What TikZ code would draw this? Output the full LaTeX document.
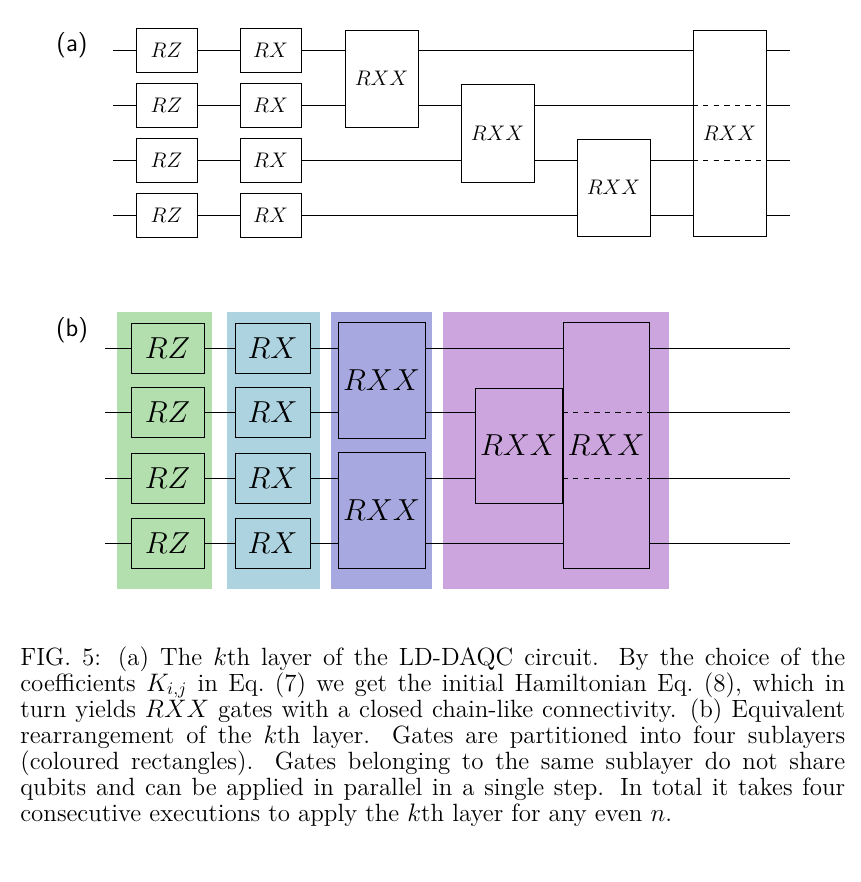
\documentclass[tikz,border=0pt]{standalone}
\usepackage{amsmath}
\definecolor{layerA}{RGB}{178,223,173}
\definecolor{layerB}{RGB}{173,211,224}
\definecolor{layerC}{RGB}{167,168,224}
\definecolor{layerD}{RGB}{204,164,222}
\begin{document}
\begin{tikzpicture}[x=0.02cm,y=-0.02cm,
  gate/.style={draw, fill=white, inner sep=0pt, font=\large},
  gateb/.style={draw, inner sep=0pt, font=\LARGE},
  wire/.style={line width=0.5pt},
  tag/.style={font=\sffamily\Large}]
\useasboundingbox (0,0) rectangle (860,882);

% (a)
\node[tag] (taga) at (72,45) {(a)};
\foreach \y [count=\i] in {50,105,160,215} {
  \coordinate (as\i) at (113,\y);
  \coordinate (ae\i) at (790,\y);
  \draw[wire] (as\i) -- (ae\i);
  \node[gate, minimum width=1.22cm, minimum height=0.88cm] (az\i) at (166.5,\y) {$RZ$};
  \node[gate, minimum width=1.22cm, minimum height=0.88cm] (ax\i) at (270.5,\y) {$RX$};
}
\node[gate, minimum width=1.46cm, minimum height=1.94cm] (axx1) at (381.5,78.5) {$RXX$};
\node[gate, minimum width=1.46cm, minimum height=1.96cm] (axx2) at (497.5,133) {$RXX$};
\node[gate, minimum width=1.46cm, minimum height=1.94cm] (axx3) at (613.5,187.5) {$RXX$};
\node[gate, minimum width=1.46cm, minimum height=4.12cm] (axx4) at (729.5,133) {$RXX$};
\draw[dashed] (axx4.west |- as2) -- (axx4.east |- as2);
\draw[dashed] (axx4.west |- as3) -- (axx4.east |- as3);

% (b)
\node[tag] (tagb) at (72,330) {(b)};
\fill[layerA] (117,312) rectangle (212,589);
\fill[layerB] (227,312) rectangle (320,589);
\fill[layerC] (331,312) rectangle (432,589);
\fill[layerD] (443,312) rectangle (669,589);
\foreach \y [count=\i] in {348,412,478,543} {
  \coordinate (bs\i) at (105,\y);
  \coordinate (be\i) at (790,\y);
  \draw[wire] (bs\i) -- (be\i);
  \node[gateb, fill=layerA, minimum width=1.46cm, minimum height=1.0cm] (bz\i) at (167.5,\y) {$RZ$};
  \node[gateb, fill=layerB, minimum width=1.5cm, minimum height=1.0cm] (bx\i) at (272.5,\y) {$RX$};
}
\node[gateb, fill=layerC, minimum width=1.74cm, minimum height=2.32cm] (bxx1) at (381.5,380) {$RXX$};
\node[gateb, fill=layerC, minimum width=1.74cm, minimum height=2.32cm] (bxx2) at (381.5,510) {$RXX$};
\node[gateb, fill=layerD, minimum width=1.74cm, minimum height=2.3cm] (bxx3) at (518.5,445.5) {$RXX$};
\node[gateb, fill=layerD, minimum width=1.72cm, minimum height=4.92cm] (bxx4) at (606,445) {$RXX$};
\draw[dashed] (bxx4.west |- bs2) -- (bxx4.east |- bs2);
\draw[dashed] (bxx4.west |- bs3) -- (bxx4.east |- bs3);

% caption
\node[anchor=north west, inner sep=0pt, text width=16.5cm, align=justify,
  font=\fontsize{14.2}{14.8}\selectfont] (cap) at (20,646)
{FIG.~5: (a) The $k$th layer of the LD-DAQC circuit. By the choice of the coefficients $K_{i,j}$ in Eq.~(7) we get the initial Hamiltonian Eq.~(8), which in turn yields $RXX$ gates with a closed chain-like connectivity. (b) Equivalent rearrangement of the $k$th layer. Gates are partitioned into four sublayers (coloured rectangles). Gates belonging to the same sublayer do not share qubits and can be applied in parallel in a single step. In total it takes four consecutive executions to apply the $k$th layer for any even $n$.};
\end{tikzpicture}
\end{document}
